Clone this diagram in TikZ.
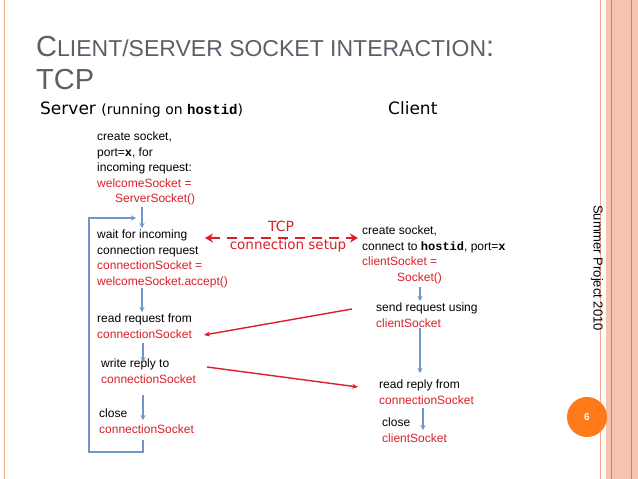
\documentclass[tikz,border=0pt]{standalone}
\usepackage{fontspec}
\setmainfont{Liberation Sans}
\setmonofont{Liberation Mono}
\newfontfamily\handfont{DejaVu Sans}
\usetikzlibrary{positioning,arrows.meta}
\definecolor{slidered}{RGB}{220,30,40}
\definecolor{flowblue}{RGB}{110,150,200}
\definecolor{frame}{RGB}{240,170,140}
\definecolor{titlegrey}{RGB}{90,95,105}
\newcommand{\rs}[1]{\textcolor{slidered}{#1}}
\tikzset{
  stage/.style={anchor=north west,inner sep=0pt,align=left,
    font=\fontsize{12}{15.5}\selectfont},
  flow/.style={draw=flowblue,line width=1.2pt,-{Stealth[length=5pt,width=5pt]}},
  msg/.style={draw=slidered,line width=1.4pt,-{Stealth[length=6pt,width=5pt]}},
}
\begin{document}
\begin{tikzpicture}[x=1pt,y=-1pt]
\useasboundingbox (0,0) rectangle (638,479);
% slide frame
\draw[frame,line width=1pt] (4,0) -- (4,479);
\draw[frame,line width=1pt] (600,0) -- (600,479);
\fill[frame!70] (606,0) rectangle (638,479);
\draw[frame!80!black,line width=0.8pt] (611,0) -- (611,479) (631,0) -- (631,479);
% title
\node[anchor=base west,inner sep=0pt,text=titlegrey,align=left,
  font=\fontsize{29}{33}\selectfont] (title) at (36,89)
  {C{\fontsize{23}{33}\selectfont LIENT/SERVER SOCKET INTERACTION}:\\TCP};
\node[anchor=base west,inner sep=0pt,font=\handfont\fontsize{17}{20}\selectfont] (server) at (40,114)
  {Server {\fontsize{14}{16}\selectfont (running on \texttt{\bfseries hostid})}};
\node[anchor=base west,inner sep=0pt,font=\handfont\fontsize{17}{20}\selectfont] (client) at (388,114) {Client};
% server side
\node[stage] (create) at (97,132) {create socket,\\port=\texttt{\bfseries x}, for\\incoming request:\\
  \rs{welcomeSocket =}\\\hspace*{18pt}\rs{ServerSocket()}};
\node[stage] (wait) at (97,230) {wait for incoming\\connection request\\
  \rs{connectionSocket =}\\\rs{welcomeSocket.accept()}};
\node[stage] (readreq) at (97,314) {read request from\\\rs{connectionSocket}};
\node[stage] (write) at (101,359) {write reply to\\\rs{connectionSocket}};
\node[stage] (sclose) at (99,409) {close\\\rs{connectionSocket}};
% client side
\node[stage] (ccreate) at (362,226) {create socket,\\connect to \texttt{\bfseries hostid}, port=\texttt{\bfseries x}\\
  \rs{clientSocket =}\\\hspace*{35pt}\rs{Socket()}};
\node[stage] (send) at (376,303) {send request using\\\rs{clientSocket}};
\node[stage] (readrep) at (379,380) {read reply from\\\rs{connectionSocket}};
\node[stage] (cclose) at (382,418) {close\\\rs{clientSocket}};
% flow arrows
\coordinate (f1) at (142,207); \coordinate (f2) at (142,288);
\coordinate (f3) at (143,343); \coordinate (f4) at (143,395);
\coordinate (f5) at (420,287); \coordinate (f6) at (420,328);
\coordinate (f7) at (423,408);
\draw[flow] (f1) -- (142,228);
\draw[flow] (f2) -- (142,312);
\draw[flow] (f3) -- (143,362);
\draw[flow] (f4) -- (143,420);
\draw[flow] (f5) -- (420,301);
\draw[flow] (f6) -- (420,373);
\draw[flow] (f7) -- (423,430);
% loop back
\coordinate (loopstart) at (143,440);
\draw[flow] (loopstart) |- (89,452) -- (89,218) -- (136,218);
% messages
\coordinate (sendtail) at (352,309);
\coordinate (readhead) at (204,335);
\coordinate (writetail) at (207,367);
\coordinate (rephead) at (358,387);
\draw[msg] (sendtail) -- (readhead);
\draw[msg] (writetail) -- (rephead);
\coordinate (tcpl) at (205,238);
\coordinate (tcpr) at (358,238);
\draw[slidered,line width=2.2pt,dash pattern=on 10pt off 7pt,{Stealth[length=8pt,width=9pt]}-{Stealth[length=8pt,width=9pt]}] (tcpl) -- (tcpr);
\node[text=slidered,font=\handfont\fontsize{14}{15}\selectfont,inner sep=0pt] (tcp) at (281,226) {TCP};
\node[text=slidered,font=\handfont\fontsize{13.5}{15}\selectfont,inner sep=0pt] (setup) at (288,246) {connection setup};
% footer
\node[rotate=-90,font=\fontsize{13}{15}\selectfont,inner sep=0pt] (proj) at (597,268) {Summer Project 2010};
\node[circle,fill=orange!85!red!90,minimum size=40pt,inner sep=0pt,text=white,
  font=\bfseries\fontsize{10}{12}\selectfont] (page) at (587,417) {6};
\end{tikzpicture}
\end{document}
